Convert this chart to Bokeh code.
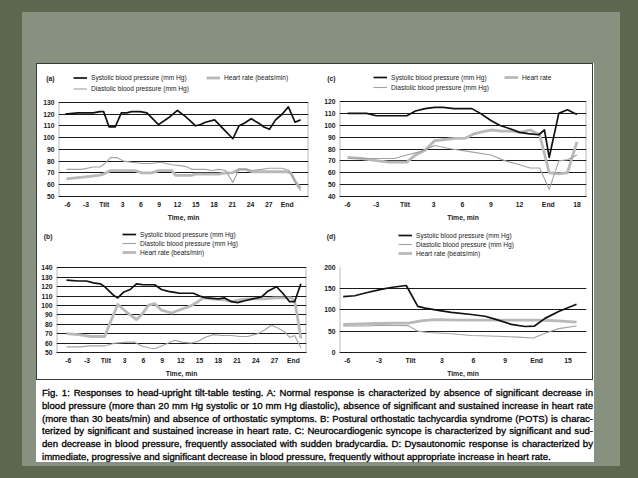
from bokeh.plotting import figure
from bokeh.layouts import column, row
from bokeh.models import (FixedTicker, Range1d, Legend, LegendItem, Div, Spacer, BoxAnnotation)
from bokeh.embed import file_html
from bokeh.resources import INLINE

# ---------------- data ----------------
# (a) normal response
a_sys_t = [-6.4, -4.3, -1.8, -0.7, -0.1, 0.8, 1.8, 2.8, 3.7, 4.5, 5.9, 7.0, 8.9, 10.6, 12.0, 13.3,
           15.0, 15.8, 16.6, 18.1, 19.6, 21.1, 22.1, 22.9, 24.1, 25.4, 26.2, 27.1, 28.1, 29.2, 30.2, 31.3, 32.2]
a_sys = [120, 121, 121, 122, 122, 109, 109, 121, 121, 122, 122, 121, 111, 117, 123, 118,
         110, 111, 113, 115, 107, 99, 110, 112, 116, 112, 109, 107, 115, 120, 126, 113, 115]
a_dia_t = [-6.2, -3.7, -1.8, -0.7, 0.1, 1.0, 2.1, 3.2, 4.5, 6.2, 7.8, 9.2, 11.1, 12.8, 13.6, 14.4,
           16.6, 17.7, 18.8, 19.9, 21.1, 22.1, 23.2, 24.3, 25.9, 27.0, 29.2, 30.3, 31.4, 32.2]
a_dia = [73, 73, 75, 75, 78, 83, 83, 80, 79, 78, 78, 79, 77, 76, 75, 73,
         73, 72, 73, 72, 62, 73, 73, 72, 73, 74, 74, 72, 62, 55]
a_hr_t = [-6.2, -4.3, -2.3, -1.0, -0.1, 1.0, 5.1, 6.2, 7.8, 8.9, 11.1, 11.7, 14.4, 14.9, 18.8,
          19.9, 21.0, 22.1, 23.2, 24.3, 29.8, 30.6, 31.4, 32.2]
a_hr = [65, 66, 67, 68, 69, 72, 72, 70, 70, 72, 72, 68, 68, 69, 69,
        70, 70, 73, 73, 71, 71, 70, 62, 57]

# (b) POTS
b_sys_t = [-6.3, -4.4, -3.1, -2.0, -0.9, -0.2, 1.2, 1.9, 2.8, 3.9, 4.9, 6.0, 7.8, 8.9, 10.0, 11.0,
           11.8, 14.0, 15.0, 16.1, 18.0, 19.0, 20.1, 21.1, 22.2, 23.5, 24.9, 25.9, 27.3, 28.3, 29.4, 30.2, 31.2]
b_sys = [127, 126, 126, 124, 123, 120, 111, 108, 114, 117, 123, 122, 122, 117, 115, 114,
         113, 113, 110, 108, 107, 108, 104, 103, 105, 107, 109, 115, 120, 113, 104, 104, 123]
b_hr_t = [-6.3, -4.4, -2.3, -0.2, 0.9, 1.9, 3.3, 4.9, 5.7, 6.8, 7.8, 8.9, 10.5, 12.1, 13.4, 14.5,
          15.6, 16.9, 19.0, 20.1, 21.4, 22.7, 25.4, 27.0, 29.7, 30.2, 30.6, 31.2]
b_hr = [70, 69, 67, 67, 85, 101, 93, 85, 90, 100, 102, 95, 92, 96, 99, 103,
        108, 107, 106, 104, 106, 107, 107, 108, 108, 105, 90, 65]
b_dia_t = [-6.3, -3.9, -2.8, -0.2, 1.5, 3.6, 4.6, 5.7, 6.8, 7.8, 8.9, 10.0, 11.0, 12.1, 13.7, 14.8,
           15.8, 17.2, 18.5, 20.1, 21.4, 22.7, 24.3, 25.4, 26.5, 27.5, 28.6, 29.4, 30.2, 31.2]
b_dia = [56, 56, 57, 57, 60, 61, 61, 57, 55, 54, 57, 60, 63, 61, 60, 62,
         66, 69, 68, 68, 67, 67, 70, 74, 79, 76, 72, 66, 68, 55]

# (c) neurocardiogenic syncope
c_sys_t = [-6.0, -4.0, -3.0, 0.2, 1.1, 2.1, 3.1, 4.0, 5.1, 7.0, 7.9, 9.0, 9.9, 11.0, 12.0, 12.9,
           14.0, 14.6, 15.1, 16.1, 17.0, 18.0]
c_sys = [110, 110, 108, 108, 112, 114, 115, 115, 114, 114, 110, 104, 100, 97, 94, 93,
         92, 96, 73, 110, 113, 109]
c_dia_t = [-6.0, -4.0, -2.8, -1.1, 0.2, 1.7, 3.1, 4.9, 6.6, 9.0, 10.5, 11.9, 13.1, 14.1, 15.1,
           16.1, 17.0, 18.0]
c_dia = [72, 72, 72, 72, 75, 78, 83, 80, 78, 75, 70, 67, 64, 64, 46, 70, 71, 75]
c_hr_t = [-6.0, -4.5, -2.8, -1.7, 0.2, 1.1, 2.1, 3.1, 4.2, 5.2, 6.3, 7.3, 8.4, 9.1, 10.1, 11.2,
          12.0, 13.1, 14.1, 15.1, 16.1, 17.0, 18.0]
c_hr = [73, 72, 70, 69, 69, 75, 79, 87, 88, 89, 89, 93, 95, 96, 95, 95,
        94, 96, 92, 60, 59, 60, 86]

# (d) dysautonomic response
d_sys_t = [-6.4, -5.3, -4.2, -2.8, -1.7, -0.4, 0.7, 1.4, 2.8, 3.9, 5.8, 7.1, 8.2, 9.6, 10.9, 11.8,
           12.8, 14.1, 15.8]
d_sys = [131, 133, 140, 148, 153, 157, 108, 104, 98, 94, 89, 85, 77, 66, 61, 62, 80, 96, 113]
d_dia_t = [-6.4, -4.2, -2.5, -0.2, 0.7, 1.7, 3.9, 5.8, 8.3, 10.2, 11.7, 12.8, 14.1, 15.8]
d_dia = [62, 62, 64, 63, 50, 47, 44, 40, 38, 36, 34, 45, 56, 62]
d_hr_t = [-6.4, -3.1, -1.5, -0.2, 1.0, 2.3, 4.9, 7.4, 12.2, 14.1, 15.8]
d_hr = [66, 68, 69, 69, 74, 77, 76, 76, 76, 74, 71]

# axes ticks / labels
ab_xticks = [-6, -3, 0, 3, 6, 9, 12, 15, 18, 21, 24, 27, 30]
ab_xlabels = ["-6", "-3", "Tilt", "3", "6", "9", "12", "15", "18", "21", "24", "27", "End"]
c_xticks = [-6, -3, 0, 3, 6, 9, 12, 15, 18]
c_xlabels = ["-6", "-3", "Tilt", "3", "6", "9", "12", "End", "18"]
d_xticks = [-6, -3, 0, 3, 6, 9, 12, 15]
d_xlabels = ["-6", "-3", "Tilt", "3", "6", "9", "End", "15"]
a_yticks = [50, 60, 70, 80, 90, 100, 110, 120, 130]
b_yticks = [50, 60, 70, 80, 90, 100, 110, 120, 130, 140]
c_yticks = [40, 50, 60, 70, 80, 90, 100, 110, 120]
d_yticks = [0, 50, 100, 150, 200]
d_gridticks = [50, 100, 150]

LEG_SYS = "Systolic blood pressure (mm Hg)"
LEG_DIA = "Diastolic blood pressure (mm Hg)"
LEG_HRB = "Heart rate (beats/min)"
LEG_HR = "Heart rate"
X_TITLE = "Time, min"

caption_lines = [
    "Fig. 1: Responses to head-upright tilt-table testing. A: Normal response is characterized by absence of significant decrease in",
    "blood pressure (more than 20 mm Hg systolic or 10 mm Hg diastolic), absence of significant and sustained increase in heart rate",
    "(more than 30 beats/min) and absence of orthostatic symptoms. B: Postural orthostatic tachycardia syndrome (POTS) is charac-",
    "terized by significant and sustained increase in heart rate. C: Neurocardiogenic syncope is characterized by significant and sud-",
    "den decrease in blood pressure, frequently associated with sudden bradycardia. D: Dysautonomic response is characterized by",
    "immediate, progressive and significant decrease in blood pressure, frequently without appropriate increase in heart rate.",
]

# ---------------- style ----------------
FONT = "Liberation Sans"
INK = "#1a1a1a"
SYS = dict(line_color="#111111", line_width=1.7, line_join="round")
DIA = dict(line_color="#a2a2a2", line_width=1.1, line_join="round")
HR = dict(line_color="#b9b9b9", line_width=2.8, line_join="round")


def base_fig(w, h, bl, br, bb, box_h, xr, yb, yticks, letter, letter_px, xticks, xlabels,
             boxed=True, grid_ticks=None):
    y0, y1 = yb
    per_px = (y1 - y0) / box_h
    frame_h = h - bb
    y_top = y0 + per_px * frame_h
    letter_y = y1 + per_px * letter_px
    p = figure(width=w, height=h, x_range=Range1d(*xr), y_range=Range1d(y0, y_top),
               output_backend="svg", toolbar_location=None, tools="",
               min_border_left=bl, min_border_right=br, min_border_top=0, min_border_bottom=bb,
               background_fill_color="white", border_fill_color="white")
    p.outline_line_color = None
    p.xgrid.grid_line_color = None
    p.ygrid.grid_line_color = INK
    p.ygrid.grid_line_width = 1
    p.ygrid.ticker = FixedTicker(ticks=grid_ticks if grid_ticks is not None else yticks)
    p.yaxis.ticker = FixedTicker(ticks=yticks + [letter_y])
    p.yaxis.major_label_overrides = {letter_y: letter}
    p.xaxis.ticker = FixedTicker(ticks=xticks)
    p.xaxis.major_label_overrides = {t: l for t, l in zip(xticks, xlabels)}
    p.xaxis.axis_label = X_TITLE
    for ax in (p.xaxis[0], p.yaxis[0]):
        ax.major_tick_line_color = None
        ax.minor_tick_line_color = None
        ax.major_tick_out = 0
        ax.major_tick_in = 0
        ax.minor_tick_out = 0
        ax.minor_tick_in = 0
        ax.major_label_text_font = FONT
        ax.major_label_text_font_size = "6.8px"
        ax.major_label_text_font_style = "bold"
        ax.major_label_text_color = INK
        ax.major_label_standoff = 4
    p.xaxis[0].axis_line_color = INK
    p.yaxis[0].axis_line_color = None
    xa = p.xaxis[0]
    xa.axis_label_text_font = FONT
    xa.axis_label_text_font_size = "6.8px"
    xa.axis_label_text_font_style = "bold"
    xa.axis_label_text_color = INK
    xa.axis_label_standoff = 3
    # vertical sides of the data box (only between the lowest and highest tick)
    sides = [xr[0], xr[1]] if boxed else [xr[0]]
    for xs in sides:
        p.add_layout(BoxAnnotation(left=xs, right=xs, bottom=y0, top=y1, fill_alpha=0,
                                   line_color=INK, line_width=2))
    return p


def add_legend(p, items, x, y, lh, sp):
    leg = Legend(items=[LegendItem(label=l, renderers=[r]) for l, r in items], location=(x, y),
                 orientation="vertical", label_text_font=FONT, label_text_font_size="6.6px",
                 label_text_color=INK, label_height=lh, glyph_height=lh, glyph_width=14,
                 label_standoff=4, spacing=sp, padding=0, margin=0,
                 border_line_color=None, background_fill_alpha=0)
    p.add_layout(leg)


# (a)
fa = base_fig(274, 161, 21, 3, 28, 95, (-7.5, 33.5), (50, 130), a_yticks, "(a)", 24,
              ab_xticks, ab_xlabels)
ra_h = fa.line(a_hr_t, a_hr, **HR)
ra_d = fa.line(a_dia_t, a_dia, **DIA)
ra_s = fa.line(a_sys_t, a_sys, **SYS)
add_legend(fa, [(LEG_SYS, ra_s), (LEG_DIA, ra_d)], 15, 103, 9, 2)
add_legend(fa, [(LEG_HRB, ra_h)], 148, 114, 9, 2)

# (c)
fc = base_fig(281, 161, 28, 6, 29, 95, (-6.85, 19.0), (40, 120), c_yticks, "(c)", 23,
              c_xticks, c_xlabels)
rc_h = fc.line(c_hr_t, c_hr, **HR)
rc_d = fc.line(c_dia_t, c_dia, **DIA)
rc_s = fc.line(c_sys_t, c_sys, **SYS)
add_legend(fc, [(LEG_SYS, rc_s), (LEG_DIA, rc_d)], 34, 105, 8, 2)
add_legend(fc, [(LEG_HR, rc_h)], 165, 115, 8, 2)

# (b)
fb = base_fig(274, 154, 19, 5, 25, 86, (-7.9, 32.1), (50, 140), b_yticks, "(b)", 32,
              ab_xticks, ab_xlabels)
rb_h = fb.line(b_hr_t, b_hr, **HR)
rb_d = fb.line(b_dia_t, b_dia, **DIA)
rb_s = fb.line(b_sys_t, b_sys, **SYS)
add_legend(fb, [(LEG_SYS, rb_s), (LEG_DIA, rb_d), (LEG_HRB, rb_h)], 66, 96, 8, 1)

# (d)
fd = base_fig(281, 154, 28, 6, 26, 86, (-6.75, 16.75), (0, 200), d_yticks, "(d)", 31,
              d_xticks, d_xlabels, boxed=False, grid_ticks=d_gridticks)
rd_h = fd.line(d_hr_t, d_hr, **HR)
rd_d = fd.line(d_dia_t, d_dia, **DIA)
rd_s = fd.line(d_sys_t, d_sys, **SYS)
add_legend(fd, [(LEG_SYS, rd_s), (LEG_DIA, rd_d), (LEG_HRB, rd_h)], 59, 95, 8, 1)

charts = column(row(fa, fc, spacing=0), row(fb, fd, spacing=0), spacing=0,
                styles={"border": "1px solid #3a3a3a"})

line_divs = []
for i, ln in enumerate(caption_lines):
    last = "left" if i == len(caption_lines) - 1 else "justify"
    line_divs.append('<div style="white-space:nowrap;text-align:justify;text-align-last:%s">%s</div>' % (last, ln))
caption_html = ('<div style="font-family:\'Liberation Sans\',Arial,sans-serif;font-size:9.6px;'
                'line-height:12.8px;color:#000;-webkit-text-stroke:0.3px #000;'
                'padding:2px 3px 0 1px;width:555px;">' + "".join(line_divs) + "</div>")
caption = Div(text=caption_html, width=558, height=82)

panel = column(charts, caption, spacing=0, width=558, height=399,
               styles={"background-color": "white"})
paper = column(Spacer(width=598, height=51), row(Spacer(width=14, height=399), panel, spacing=0),
               spacing=0, width=598, height=454, styles={"background-color": "#879180"})
root = column(Spacer(width=638, height=12), row(Spacer(width=22, height=454), paper, spacing=0),
              spacing=0, width=638, height=478, styles={"background-color": "#5b674f"})

open("out.html", "w").write(file_html(root, INLINE))
